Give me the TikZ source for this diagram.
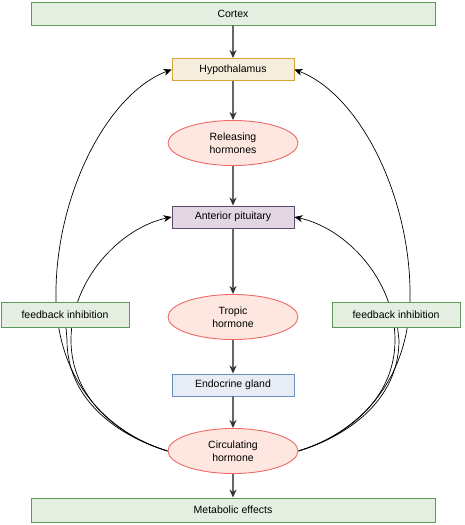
\documentclass[tikz,border=0pt]{standalone}
\usepackage{fontspec}
\setmainfont{Liberation Sans}
\usetikzlibrary{arrows.meta,shapes.geometric}
\pgfdeclarelayer{background}
\pgfsetlayers{background,main}
\definecolor{gfill}{HTML}{E4EFE1}\definecolor{gline}{HTML}{5C9A5A}
\definecolor{yfill}{HTML}{F5EEDC}\definecolor{yline}{HTML}{D6A536}
\definecolor{pfill}{HTML}{E2D6E2}\definecolor{pline}{HTML}{5E4B6E}
\definecolor{bfill}{HTML}{E8ECF5}\definecolor{bline}{HTML}{6C8EBF}
\definecolor{rfill}{HTML}{FDE7E0}\definecolor{rline}{HTML}{EE6A64}
\tikzset{
  lbl/.style={font=\fontsize{10.5}{13}\selectfont, align=center, inner sep=0pt},
  greenbox/.style={lbl, draw=gline, fill=gfill, line width=0.9pt, minimum height=23pt},
  midbox/.style={lbl, line width=0.9pt, minimum width=122pt, minimum height=22pt},
  oval/.style={lbl, ellipse, draw=rline, fill=rfill, line width=0.9pt, minimum width=130pt, minimum height=45pt},
  flow/.style={draw=black!60, line width=1.2pt, -{Stealth[length=8pt,width=7pt,inset=2.5pt,color=black!80]}},
  fb/.style={draw=black, line width=0.7pt, -{Stealth[length=8pt,width=7pt,inset=2.5pt]}},
  fbline/.style={draw=black, line width=0.7pt}
}
\begin{document}
\begin{tikzpicture}[x=1pt,y=-1pt]
\useasboundingbox (0,0) rectangle (465,525);
\node[greenbox, minimum width=404pt] (cortex) at (233,13.5) {Cortex};
\node[midbox, draw=yline, fill=yfill] (hypo) at (233,69.5) {Hypothalamus};
\node[oval] (rel) at (233,143) {Releasing\\hormones};
\node[midbox, draw=pline, fill=pfill] (ap) at (233,217) {Anterior pituitary};
\node[oval] (trop) at (233,317) {Tropic\\hormone};
\node[midbox, draw=bline, fill=bfill] (endo) at (233,385) {Endocrine gland};
\node[oval] (circ) at (233,451) {Circulating\\hormone};
\node[greenbox, minimum width=404pt, minimum height=24pt] (meta) at (233,510) {Metabolic effects};
\node[greenbox, minimum width=128pt, minimum height=25pt] (fbl) at (65,314.5) {feedback inhibition};
\node[greenbox, minimum width=128pt, minimum height=25pt] (fbr) at (396,314.5) {feedback inhibition};

\draw[flow] (cortex) -- (hypo);
\draw[flow] (hypo) -- (rel);
\draw[flow] (rel) -- (ap);
\draw[flow] (ap) -- (trop);
\draw[flow] (trop) -- (endo);
\draw[flow] (endo) -- (circ);
\draw[flow] (circ) -- (meta);

\begin{pgfonlayer}{background}
\draw[fb] (circ.west) .. controls (118,436) and (59,392) .. (56,300) .. controls (54,200) and (105,95) .. (hypo.west);
\draw[fb] (circ.east) .. controls (348,436) and (407,392) .. (410,300) .. controls (412,200) and (361,95) .. (hypo.east);
\draw[fb] (circ.west) .. controls (118,436) and (71,398) .. (71,340) .. controls (71,280) and (120,228) .. (ap.west);
\draw[fb] (circ.east) .. controls (348,436) and (395,398) .. (395,340) .. controls (395,280) and (346,228) .. (ap.east);
\draw[fbline] (circ.west) .. controls (118,436) and (67,400) .. (67,340) -- (fbl.center);
\draw[fbline] (circ.east) .. controls (348,436) and (399,400) .. (399,340) -- (fbr.center);
\end{pgfonlayer}
\end{tikzpicture}
\end{document}
